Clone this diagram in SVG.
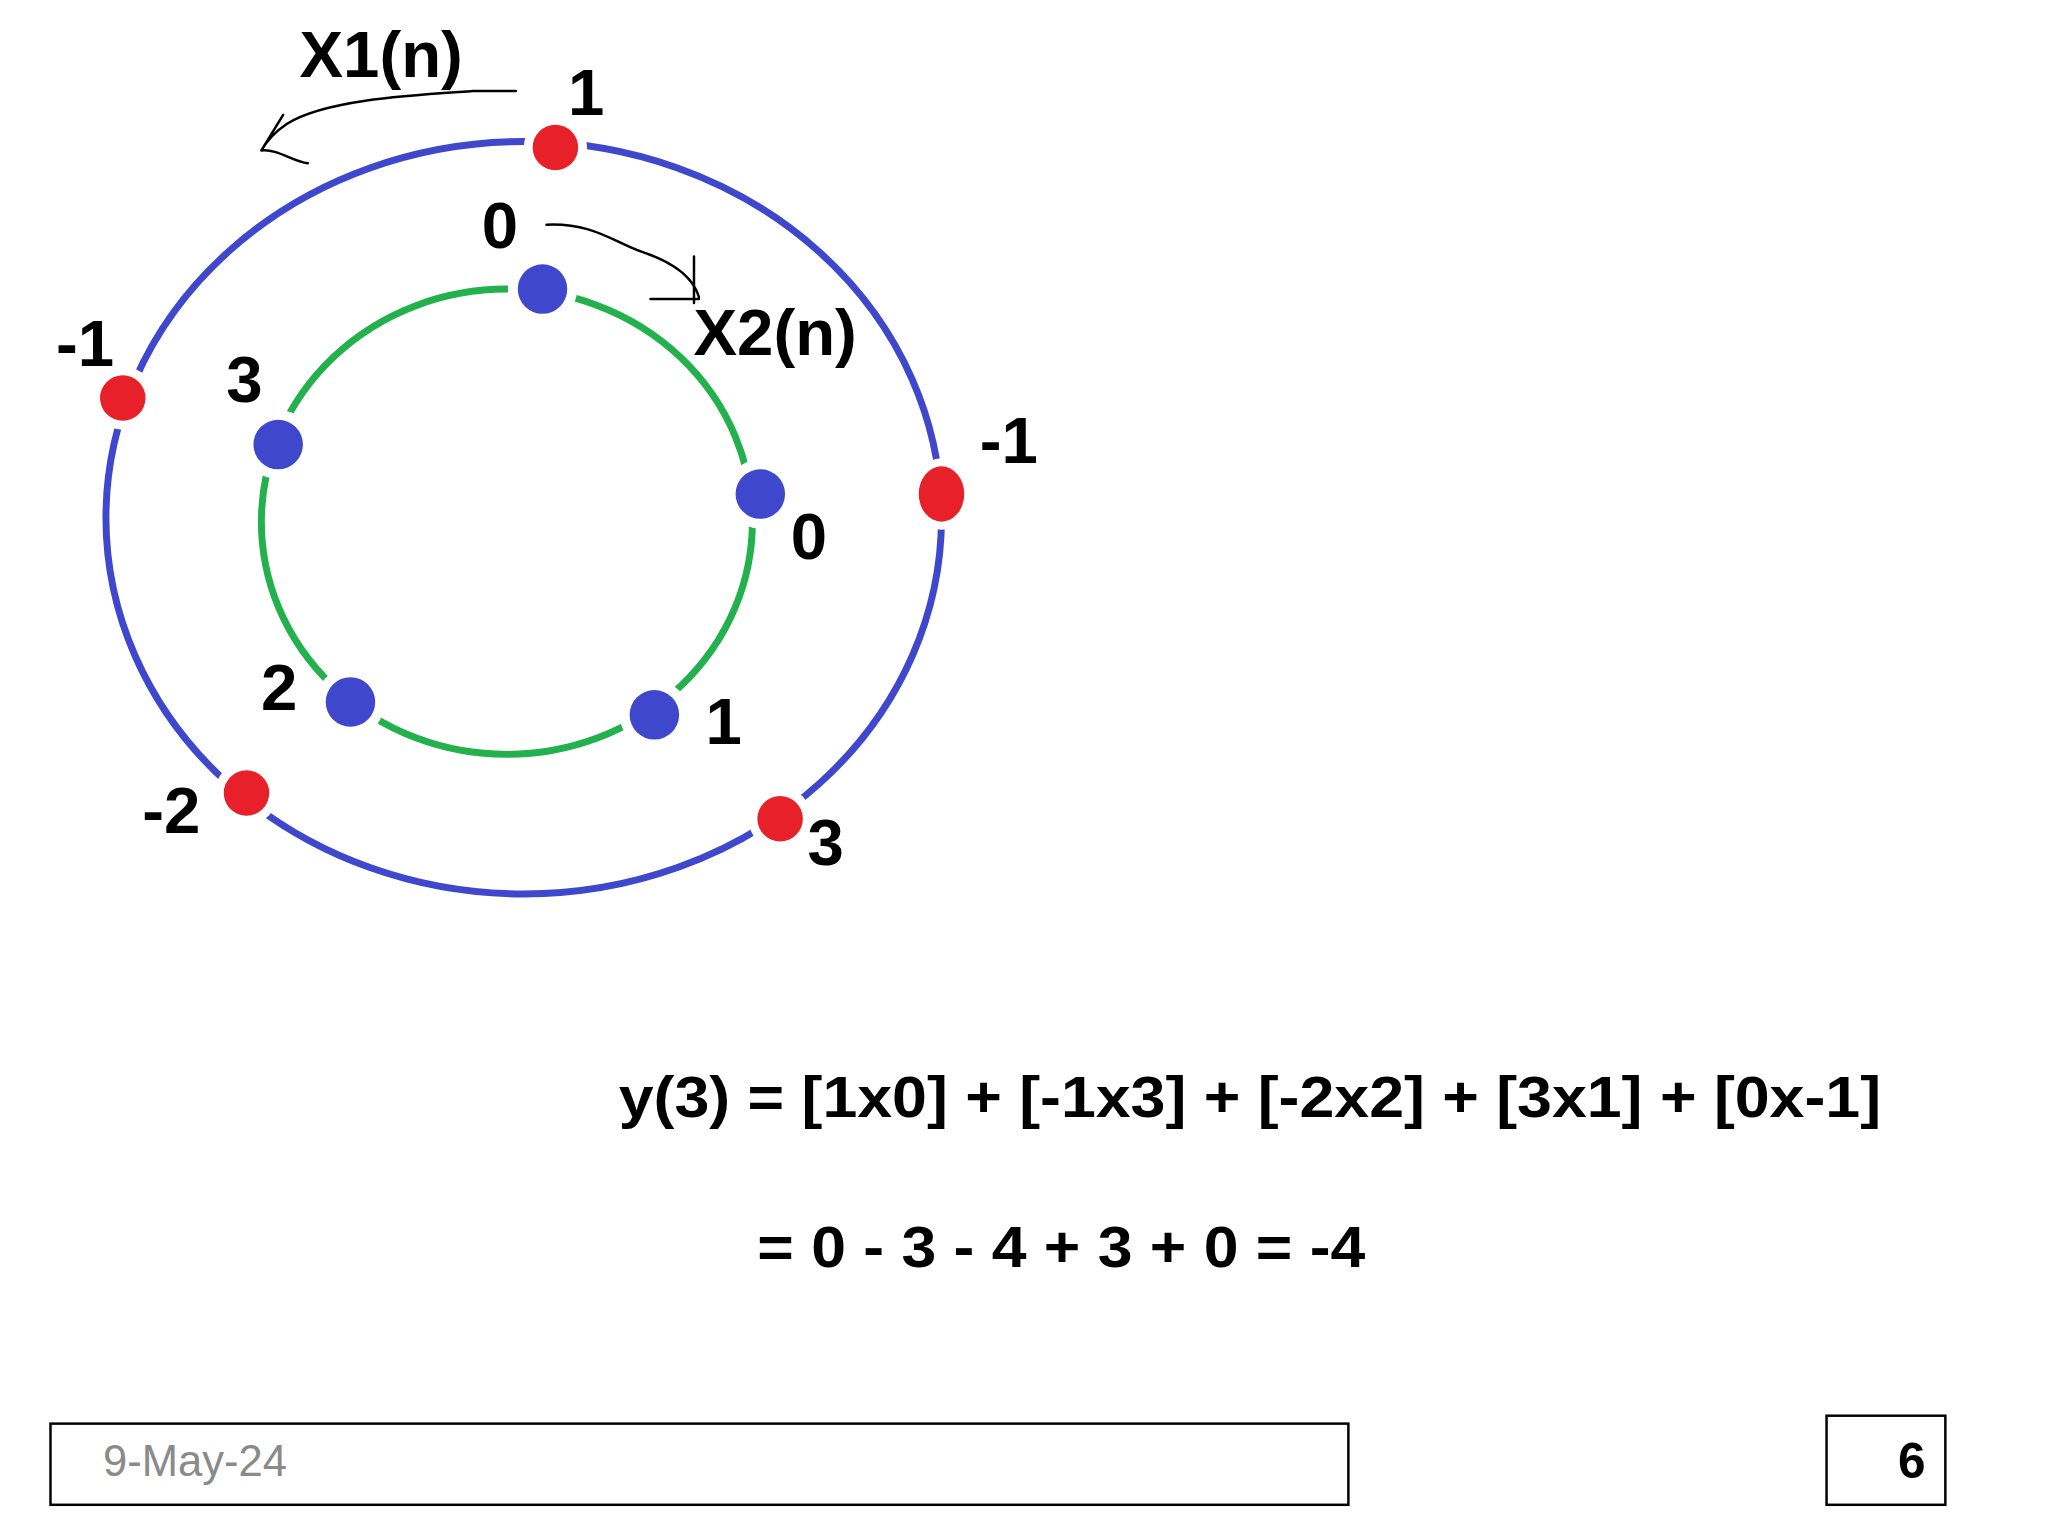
<svg xmlns="http://www.w3.org/2000/svg" width="2048" height="1536" viewBox="0 0 2048 1536">
<style>
.lbl{font-family:"Liberation Sans",Arial,sans-serif;font-weight:bold;font-size:66px;fill:#000;text-anchor:middle}
.eq{font-family:"Liberation Sans",Arial,sans-serif;font-weight:bold;font-size:58px;fill:#000}
.red{fill:#e8202a}
.blue{fill:#3f48cc}
.gap{fill:#fff}
.ink{fill:none;stroke:#000;stroke-width:2.5;stroke-linecap:round}
</style>
<rect width="2048" height="1536" fill="#fff"/>
<g transform="scale(0.99)">
<g id="rings">
<ellipse cx="529" cy="523" rx="422" ry="380" fill="none" stroke="#3f48cc" stroke-width="7"/>
<ellipse cx="512" cy="527" rx="248" ry="235" fill="none" stroke="#22b14c" stroke-width="7"/>
</g>
<g id="x1-points">
<circle class="gap" cx="561" cy="149" r="32"/><circle class="red" cx="561" cy="149" r="23"/>
<circle class="gap" cx="124" cy="402" r="32"/><circle class="red" cx="124" cy="402" r="23"/>
<ellipse class="gap" cx="951" cy="499" rx="30" ry="36"/><ellipse class="red" cx="951" cy="499" rx="23" ry="28"/>
<circle class="gap" cx="249" cy="801" r="32"/><circle class="red" cx="249" cy="801" r="23"/>
<circle class="gap" cx="788" cy="827" r="32"/><circle class="red" cx="788" cy="827" r="23"/>
</g>
<g id="x2-points">
<circle class="gap" cx="548" cy="292" r="35"/><circle class="blue" cx="548" cy="292" r="25"/>
<circle class="gap" cx="281" cy="449" r="35"/><circle class="blue" cx="281" cy="449" r="25"/>
<circle class="gap" cx="768" cy="499" r="35"/><circle class="blue" cx="768" cy="499" r="25"/>
<circle class="gap" cx="354" cy="709" r="35"/><circle class="blue" cx="354" cy="709" r="25"/>
<circle class="gap" cx="661" cy="722" r="35"/><circle class="blue" cx="661" cy="722" r="25"/>
</g>
<g id="labels">
<text class="lbl" x="592" y="116">1</text>
<text class="lbl" x="86" y="370">-1</text>
<text class="lbl" x="1019" y="468">-1</text>
<text class="lbl" x="173" y="841">-2</text>
<text class="lbl" x="834" y="874">3</text>
<text class="lbl" x="505" y="251">0</text>
<text class="lbl" x="247" y="406">3</text>
<text class="lbl" x="817" y="565">0</text>
<text class="lbl" x="282" y="717">2</text>
<text class="lbl" x="731" y="752">1</text>
<text class="lbl" x="385" y="78">X1(n)</text>
<text class="lbl" x="783" y="359">X2(n)</text>
</g>
<g id="connectors">
<path class="ink" d="M521 92 L478 92 C420 96 330 100 290 125 C275 135 268 145 264 152 M264 152 L286 116 M264 152 C280 150 295 163 311 165"/>
<path class="ink" d="M552 227 C600 225 620 245 650 255 C680 265 700 280 706 300 M701 259 L701 306 M657 302 L706 302"/>
</g>
<g id="equation">
<text class="eq" x="625" y="1128" textLength="1275" lengthAdjust="spacingAndGlyphs">y(3) = [1x0] + [-1x3] + [-2x2] + [3x1] + [0x-1]</text>
<text class="eq" x="765" y="1280" textLength="614" lengthAdjust="spacingAndGlyphs">= 0 - 3 - 4 + 3 + 0 = -4</text>
</g>
<g id="footer">
<rect x="51" y="1438" width="1311" height="82" fill="none" stroke="#000" stroke-width="2.5"/>
<text x="104" y="1491" font-family="Liberation Sans,Arial,sans-serif" font-size="44" fill="#8a8a8a">9-May-24</text>
<rect x="1845" y="1430" width="120" height="90" fill="none" stroke="#000" stroke-width="2.5"/>
<text x="1931" y="1493" font-family="Liberation Sans,Arial,sans-serif" font-size="50" font-weight="bold" text-anchor="middle">6</text>
</g>
</g>
</svg>
